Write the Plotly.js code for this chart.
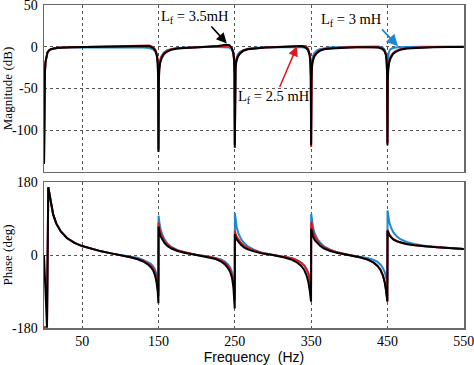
<!DOCTYPE html>
<html>
<head>
<meta charset="utf-8">
<script src="https://cdn.plot.ly/plotly-3.0.1.min.js"></script>
<style>html,body{margin:0;padding:0;background:#fff;}#chart{width:474px;height:365px;}</style>
</head>
<body>
<div id="chart"></div>
<script>
// ---------- DATA ----------
var freqMag = [0, 0.3, 0.7, 1.2, 2, 3, 4.5, 6.5, 9, 13, 20, 35, 60, 90, 115, 130, 138, 143, 146, 148, 149, 149.6,
  150,
  150.4, 151, 152, 154, 157, 161, 167, 175, 190, 210, 228, 238, 243, 246, 248, 249, 249.6,
  250,
  250.4, 251, 252, 254, 257, 261, 267, 275, 290, 310, 328, 338, 343, 346, 348, 349, 349.6,
  350,
  350.4, 351, 352, 354, 357, 361, 367, 375, 390, 410, 428, 438, 443, 446, 448, 449, 449.6,
  450,
  450.4, 451, 452, 454, 457, 461, 467, 475, 490, 510, 530, 550];

var magBlack = [-140, -75, -45, -30, -18, -11, -7, -4.5, -3, -2, -1.2, -0.7, -0.3, 0, 0.5, 1, 0.8, -1.5, -5, -11, -20, -38,
  -126,
  -45, -28, -20, -14, -9, -6, -3.5, -2, -1, -0.3, 1, 2.5, 2, -1.5, -7, -15, -32,
  -121,
  -40, -25, -18, -12, -8, -5, -3, -2, -1, -0.3, 0.5, 0.8, -1, -4, -10, -18, -36,
  -118,
  -40, -25, -18, -12, -8, -5, -3, -2, -1, -0.5, -0.5, -1, -2.5, -5, -10, -18, -36,
  -118,
  -42, -28, -20, -14, -9, -6, -3.5, -2, -1, -0.5, -0.3, -0.2];

var magRed = [-140, -75, -45, -30, -18, -11, -7, -4.5, -3, -2, -1.2, -0.6, -0.2, 0.2, 0.8, 1.5, 1.5, -0.5, -3.5, -9, -17, -35,
  -124,
  -42, -26, -18, -12, -8, -5, -3, -1.8, -0.8, -0.2, 0.5, 1, 0.8, -1.5, -6, -13, -30,
  -118,
  -38, -23, -16, -11, -7, -4.5, -2.8, -1.8, -0.8, 0, 0.8, 1.5, 1, -2.5, -8, -16, -33,
  -120,
  -38, -23, -16, -11, -7, -4.5, -2.8, -1.8, -0.8, -0.3, -0.3, -0.6, -1.5, -4, -9, -17, -35,
  -115,
  -40, -26, -18, -12, -8, -5, -3, -1.8, -0.8, -0.4, -0.2, -0.1];

var magBlue = [-140, -75, -45, -30, -18, -11, -7, -4.5, -3, -2, -1.2, -0.8, -0.5, -0.4, -0.5, -0.8, -1.5, -3, -6, -12, -21, -40,
  -122,
  -40, -24, -16, -11, -7, -4.5, -2.6, -1.5, -0.7, -0.3, -0.3, -0.5, -1, -3, -8, -16, -34,
  -117,
  -36, -21, -14, -9, -6, -4, -2.5, -1.5, -0.7, -0.3, -0.2, -0.3, -1.5, -4, -9, -17, -35,
  -116,
  -34, -19, -12, -8, -5, -3, -1.8, -1, -0.4, 0, 0.2, 0.3, -0.5, -3, -8, -16, -33,
  -116,
  -26, -12, -6, -3, -1.5, -0.8, -0.4, -0.2, -0.1, 0, 0, 0];

var freqPh = [0, 1, 2, 3, 3.9, 5.6, 7, 9, 12, 16, 22, 30, 40, 50, 62, 75, 88, 100, 112, 122, 130, 136, 140, 143, 145.5, 147.5, 149, 149.9,
  150.1, 151, 152.5, 155, 158, 162, 167, 175, 185, 200, 215, 225, 232, 237, 241, 244, 246.5, 248.2, 249.9,
  250.1, 251, 252.5, 255, 258, 262, 267, 275, 285, 300, 315, 325, 332, 337, 341, 344, 346.5, 348.2, 349.9,
  350.1, 351, 352.5, 355, 358, 362, 367, 375, 385, 400, 415, 425, 432, 437, 441, 444, 446.5, 448.2, 449.9,
  450.1, 451, 452.5, 455, 458, 462, 467, 475, 485, 500, 515, 525, 532, 537, 541, 544, 546.5, 548.2, 550];

var phBlack = [0, -45, -90, -135, -178, 167, 150, 125, 100, 78, 58, 42, 30, 22, 15, 9, 4, 0, -5, -10, -16, -23, -30, -38, -50, -68, -90, -119,
  70, 58, 47, 37, 29, 22, 16, 10, 5, 0, -5, -10, -16, -23, -32, -42, -58, -80, -132,
  52, 45, 38, 31, 25, 19, 14, 9, 4, 0, -6, -12, -19, -27, -37, -50, -68, -88, -115,
  65, 55, 45, 36, 29, 22, 16, 10, 5, 0, -6, -12, -19, -27, -37, -50, -68, -88, -115,
  60, 55, 49, 43, 38, 34, 31, 27, 24, 21, 19, 18, 17, 16.5, 16, 15.8, 15.5, 15.2, 15];

var phRed = [-178, -178, -178, -178, -178, 167, 150, 125, 100, 78, 58, 42, 30, 22, 15, 9, 4, 0, -4, -9, -14, -20, -26, -33, -43, -57, -76, -101,
  80, 68, 55, 43, 33, 25, 18, 11, 6, 0, -4, -8, -13, -19, -27, -36, -50, -68, -112,
  60, 53, 45, 37, 30, 23, 17, 11, 5, 0, -4, -8, -13, -19, -26, -35, -47, -60, -80,
  82, 70, 57, 45, 35, 26, 19, 12, 6, 0, -6, -12, -19, -27, -37, -50, -68, -88, -114,
  62, 56, 50, 44, 39, 35, 31, 27, 24, 21, 19, 18, 17, 16.5, 16, 15.8, 15.5, 15.2, 15];

var phBlue = [-178, -178, -178, -178, -178, 167, 150, 125, 100, 78, 58, 42, 30, 22, 15, 9, 4, 0, -3, -7, -12, -17, -22, -28, -36, -48, -65, -90,
  97, 82, 66, 50, 38, 28, 20, 12, 6, 0, -3, -7, -11, -16, -23, -31, -43, -58, -92,
  104, 85, 68, 52, 40, 30, 21, 13, 6, 0, -4, -8, -13, -19, -26, -35, -46, -59, -78,
  102, 85, 68, 52, 40, 30, 21, 13, 6, 0, -4, -8, -12, -17, -24, -32, -42, -54, -70,
  110, 95, 80, 66, 55, 46, 39, 32, 27, 22, 19, 18, 17, 16.5, 16, 15.8, 15.5, 15.2, 15];

var xTicks = [50, 150, 250, 350, 450, 550];
var xTickText = ['50', '150', '250', '350', '450', '550'];
var magTicks = [50, 0, -50, -100];
var magTickText = ['50', '0', '-50', '-100'];
var phTicks = [180, 0, -180];
var phTickText = ['180', '0', '-180'];
var seriesNames = ['L<sub>f</sub> = 3 mH', 'L<sub>f</sub> = 2.5 mH', 'L<sub>f</sub> = 3.5mH'];

// ---------- STYLE ----------
var cBlue = '#1f87cf', cRed = '#e2161d', cBlack = '#000000';
var serif = "Liberation Serif";
var sans = "Liberation Sans";
var gridC = '#555555';

function tr(x, y, color, xa, ya, name) {
  return {x: x, y: y, type: 'scatter', mode: 'lines', xaxis: xa, yaxis: ya, name: name,
    line: {color: color, width: 2}, hoverinfo: 'skip'};
}

var data = [
  tr(freqMag, magBlue, cBlue, 'x', 'y', seriesNames[0]),
  tr(freqMag, magRed, cRed, 'x', 'y', seriesNames[1]),
  tr(freqMag, magBlack, cBlack, 'x', 'y', seriesNames[2]),
  tr(freqPh, phBlue, cBlue, 'x2', 'y2', seriesNames[0]),
  tr(freqPh, phRed, cRed, 'x2', 'y2', seriesNames[1]),
  tr(freqPh, phBlack, cBlack, 'x2', 'y2', seriesNames[2])
];

function ax(extra) {
  var o = {
    showgrid: true, gridcolor: gridC, gridwidth: 1, griddash: 'dot',
    zeroline: false, showline: true, mirror: true, linecolor: '#6a6a6a', linewidth: 1.5,
    ticks: '', tickmode: 'array', ticklabeloverflow: 'allow',
    tickfont: {family: serif, size: 14, color: '#000'}
  };
  for (var k in extra) o[k] = extra[k];
  return o;
}

var layout = {
  width: 474, height: 365,
  margin: {l: 44, r: 10, t: 5, b: 37},
  font: {family: serif, size: 14, color: '#000'},
  paper_bgcolor: '#fff', plot_bgcolor: '#fff',
  showlegend: false,
  xaxis: ax({domain: [0, 1], range: [0, 550.3], tickvals: xTicks, ticktext: xTickText, showticklabels: false, anchor: 'y'}),
  yaxis: ax({domain: [0.483, 1], range: [-150, 50], tickvals: magTicks, ticktext: magTickText, anchor: 'x', ticklabelstandoff: 2,
    title: {text: 'Magnitude (dB)', font: {family: serif, size: 13, color: '#000'}, standoff: 2}}),
  xaxis2: ax({domain: [0, 1], range: [0, 550.3], tickvals: xTicks, ticktext: xTickText, anchor: 'y2', ticklabelstandoff: 0,
    title: {text: 'Frequency  (Hz)', font: {family: sans, size: 14, color: '#000'}, standoff: 1}}),
  yaxis2: ax({domain: [0, 0.452], range: [-180, 180], tickvals: phTicks, ticktext: phTickText, anchor: 'x2', ticklabelstandoff: 2,
    title: {text: 'Phase (deg)', font: {family: serif, size: 13, color: '#000'}, standoff: 2}}),
  annotations: [
    {xref: 'x', yref: 'y', x: 198, y: 35.5, text: seriesNames[2], showarrow: false,
      font: {family: serif, size: 14.5, color: '#000'}},
    {xref: 'x', yref: 'y', x: 403, y: 32, text: seriesNames[0], showarrow: false,
      font: {family: serif, size: 14.5, color: '#000'}},
    {xref: 'x', yref: 'y', x: 301, y: -60, text: seriesNames[1], showarrow: false,
      font: {family: serif, size: 14.5, color: '#000'}},
    {xref: 'x', yref: 'y', axref: 'x', ayref: 'y', x: 239.5, y: 4, ax: 217.5, ay: 26, text: '',
      showarrow: true, arrowhead: 2, arrowsize: 1.3, arrowwidth: 1.6, arrowcolor: cBlack},
    {xref: 'x', yref: 'y', axref: 'x', ayref: 'y', x: 464, y: 0.5, ax: 441, ay: 22.5, text: '',
      showarrow: true, arrowhead: 2, arrowsize: 1.3, arrowwidth: 1.8, arrowcolor: cBlue},
    {xref: 'x', yref: 'y', axref: 'x', ayref: 'y', x: 331.5, y: 0.5, ax: 308, ay: -50, text: '',
      showarrow: true, arrowhead: 2, arrowsize: 1.3, arrowwidth: 1.5, arrowcolor: cRed}
  ]
};

Plotly.newPlot('chart', data, layout, {staticPlot: true, displayModeBar: false});
</script>
</body>
</html>
